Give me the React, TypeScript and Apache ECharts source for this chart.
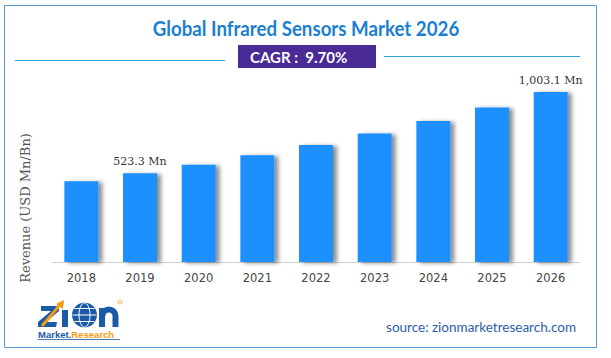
import React, { useEffect, useRef } from "react";
import * as echarts from "echarts";

const years = ["2018", "2019", "2020", "2021", "2022", "2023", "2024", "2025", "2026"];
const revenue = [477.0, 523.3, 574.1, 629.8, 690.9, 757.9, 831.4, 912.1, 1003.1];
const barLabels = ["", "523.3 Mn", "", "", "", "", "", "", "1,003.1 Mn"];
const titleText = "Global Infrared Sensors Market 2026";
const cagrText = "CAGR :  9.70%";
const yAxisName = "Revenue (USD Mn/Bn)";
const sourceText = "source: zionmarketresearch.com";

export default function App() {
  const ref = useRef<HTMLDivElement>(null);
  useEffect(() => {
    document.body.style.margin = "0";
    const chart = echarts.init(ref.current!, null, { renderer: "svg" });
    const data = revenue.map((v, i) => ({
      value: v,
      label: { show: barLabels[i] !== "", formatter: barLabels[i] },
    }));
    const blue = "#1b5aa6";
    const orange = "#f39c12";
    chart.setOption({
      animation: false,
      backgroundColor: "#ffffff",
      grid: { left: 52, right: 31, top: 62, bottom: 96 },
      xAxis: {
        type: "category",
        data: years,
        axisLine: { lineStyle: { color: "#cfcfcf", width: 1 } },
        axisTick: { show: false },
        axisLabel: {
          color: "#444444",
          fontFamily: "DejaVu Sans",
          fontSize: 11.5,
          margin: 10,
        },
      },
      yAxis: { type: "value", min: 0, max: 1180, show: false },
      series: [
        {
          type: "bar",
          data,
          barWidth: 34,
          itemStyle: {
            color: "#1e90ff",
            shadowColor: "rgba(0,0,0,0.45)",
            shadowBlur: 4,
            shadowOffsetX: 4,
            shadowOffsetY: 1,
          },
          label: {
            position: "top",
            distance: 6,
            color: "#333333",
            fontFamily: "DejaVu Serif",
            fontSize: 11,
          },
        },
      ],
      graphic: [
        {
          type: "rect",
          shape: { x: 4.5, y: 5.5, width: 592, height: 342 },
          style: { fill: "none", stroke: "#5b9bd5", lineWidth: 1 },
          silent: true,
        },
        {
          type: "text",
          x: 306,
          y: 28,
          scaleX: 0.935,
          style: {
            text: titleText,
            fill: "#1a7fd0",
            font: "bold 20px Lato",
            align: "center",
            verticalAlign: "middle",
          },
        },
        {
          type: "line",
          shape: { x1: 15, y1: 60.5, x2: 225, y2: 60.5 },
          style: { stroke: "#2b9fdc", lineWidth: 1 },
        },
        {
          type: "line",
          shape: { x1: 384, y1: 56.5, x2: 580, y2: 56.5 },
          style: { stroke: "#2b9fdc", lineWidth: 1 },
        },
        {
          type: "rect",
          shape: { x: 238, y: 45, width: 138, height: 23 },
          style: { fill: "#4a2a94" },
        },
        {
          type: "text",
          x: 250,
          y: 57,
          style: {
            text: cagrText,
            fill: "#ffffff",
            font: "bold 15px Lato",
            verticalAlign: "middle",
          },
        },
        {
          type: "text",
          x: 25,
          y: 208,
          rotation: Math.PI / 2,
          style: {
            text: yAxisName,
            fill: "#555555",
            font: "13px DejaVu Serif",
            align: "center",
            verticalAlign: "middle",
          },
        },
        {
          type: "text",
          x: 576,
          y: 327,
          style: {
            text: sourceText,
            fill: "#2b5ea7",
            font: "13.5px Lato",
            align: "right",
            verticalAlign: "middle",
          },
        },
        // Logo (shapes)
        {
          type: "group",
          children: [
            {
              type: "polygon",
              shape: {
                points: [
                  [41, 306], [59, 306], [59, 311], [46, 322], [57, 322],
                  [56, 327], [38, 327], [38, 322], [51, 311], [41, 311],
                ],
              },
              style: { fill: blue },
            },
            {
              type: "line",
              shape: { x1: 42, y1: 326, x2: 59, y2: 306 },
              style: { stroke: orange, lineWidth: 3 },
            },
            {
              type: "polygon",
              shape: { points: [[56, 304], [64, 300], [63, 309]] },
              style: { fill: orange },
            },
            {
              type: "rect",
              shape: { x: 62, y: 310, width: 6, height: 17 },
              style: { fill: blue },
            },
            {
              type: "circle",
              shape: { cx: 84.5, cy: 315, r: 12.5 },
              style: { fill: blue },
            },
            {
              type: "ellipse",
              shape: { cx: 84.5, cy: 315, rx: 5.5, ry: 12 },
              style: { fill: "none", stroke: "#ffffff", lineWidth: 1 },
            },
            {
              type: "line",
              shape: { x1: 72.5, y1: 315, x2: 96.5, y2: 315 },
              style: { stroke: "#ffffff", lineWidth: 1 },
            },
            {
              type: "line",
              shape: { x1: 74.5, y1: 308.5, x2: 94.5, y2: 308.5 },
              style: { stroke: "#ffffff", lineWidth: 1 },
            },
            {
              type: "line",
              shape: { x1: 74.5, y1: 321.5, x2: 94.5, y2: 321.5 },
              style: { stroke: "#ffffff", lineWidth: 1 },
            },
            {
              type: "rect",
              shape: { x: 99, y: 308, width: 6, height: 19 },
              style: { fill: blue },
            },
            {
              type: "arc",
              shape: { cx: 109, cy: 316, r: 6.5, startAngle: Math.PI, endAngle: Math.PI * 2, clockwise: true },
              style: { stroke: blue, lineWidth: 6, fill: "none" },
            },
            {
              type: "rect",
              shape: { x: 112.5, y: 316, width: 6, height: 11 },
              style: { fill: blue },
            },
            {
              type: "circle",
              shape: { cx: 120, cy: 302, r: 2 },
              style: { fill: "none", stroke: orange, lineWidth: 0.8 },
            },
            {
              type: "text",
              x: 38,
              y: 329,
              style: {
                text: "{a|Market.}{b|Research}",
                rich: {
                  a: { fill: blue, font: "bold 9.5px Liberation Sans" },
                  b: { fill: orange, font: "bold 9.5px Liberation Sans" },
                },
              },
            },
            {
              type: "line",
              shape: { x1: 38, y1: 339.5, x2: 120, y2: 339.5 },
              style: { stroke: blue, lineWidth: 0.8 },
            },
          ],
        },
      ],
    });
    return () => chart.dispose();
  }, []);
  return <div ref={ref} style={{ width: 611, height: 358 }} />;
}
